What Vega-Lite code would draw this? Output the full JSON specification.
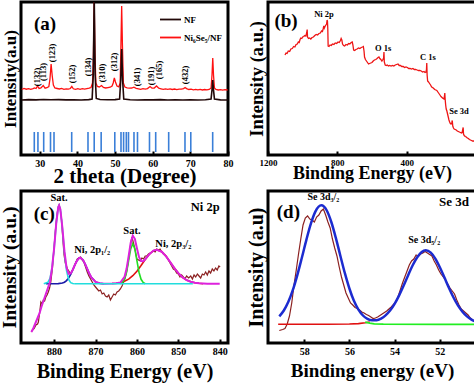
{
"$schema": "https://vega.github.io/schema/vega-lite/v6.json",
"padding": {"left": -3, "top": 0, "right": 0, "bottom": 0},
"background": "white",
"columns": 2,
"spacing": {"row": 1, "column": 9},
"resolve": {"scale": {"x": "independent", "y": "independent", "color": "independent"}, "legend": {"color": "independent"}},
"concat": [
{
"width": 207, "height": 153,
"layer": [
{"data": {"values": [{"x":28.53},{"x":29.5},{"x":31.03},{"x":32.84},{"x":33.77},{"x":38.47},{"x":42.8},{"x":44.45},{"x":46.3},{"x":49.92},{"x":51.57},{"x":52.26},{"x":52.98},{"x":53.56},{"x":55.02},{"x":55.95},{"x":59.14},{"x":60.79},{"x":64.24},{"x":68.57},{"x":70.11},{"x":75.93}]},
 "mark": {"type": "rule", "color": "#3a7fd8", "strokeWidth": 1.6},
 "encoding": {
  "x": {"field": "x", "type": "quantitative", "scale": {"domain": [25, 80], "nice": false, "zero": false}, "axis": {"title": "2 theta (Degree)", "values": [30,40,50,60,70,80], "labelOverlap": false, "labelFontSize": 10, "titleFontSize": 21, "titlePadding": -3}},
  "y": {"datum": 3, "type": "quantitative", "scale": {"domain": [0, 153], "nice": false, "zero": false}, "axis": {"title": "Intensity(a.u)", "titleFontSize": 17}},
  "y2": {"datum": 23}}},
{"data": {"values": [{"x":25.2,"y":65.5},{"x":25.8,"y":66.5},{"x":26.4,"y":65.8},{"x":27,"y":66.4},{"x":27.6,"y":65.6},{"x":28.2,"y":66.3},{"x":28.6,"y":67},{"x":29.0,"y":66.5},{"x":29.4,"y":69},{"x":29.8,"y":66.5},{"x":30.3,"y":67},{"x":30.9,"y":69.5},{"x":31.4,"y":66.8},{"x":31.9,"y":67.3},{"x":32.4,"y":68.5},{"x":32.7,"y":76},{"x":33.0,"y":91},{"x":33.3,"y":79},{"x":33.6,"y":70},{"x":34.0,"y":67},{"x":34.6,"y":66.5},{"x":35.2,"y":66},{"x":35.8,"y":66.6},{"x":36.4,"y":65.7},{"x":37.0,"y":66.2},{"x":37.6,"y":65.8},{"x":38.1,"y":66.5},{"x":38.5,"y":68.5},{"x":38.9,"y":66.2},{"x":39.5,"y":65.6},{"x":40.1,"y":66.3},{"x":40.7,"y":65.7},{"x":41.3,"y":66.4},{"x":41.9,"y":65.8},{"x":42.5,"y":66.3},{"x":43.1,"y":66.8},{"x":43.6,"y":67.5},{"x":44.0,"y":72},{"x":44.25,"y":100},{"x":44.45,"y":153},{"x":44.65,"y":100},{"x":44.9,"y":72},{"x":45.3,"y":68.5},{"x":45.8,"y":68},{"x":46.4,"y":69.5},{"x":46.9,"y":67.5},{"x":47.5,"y":67},{"x":48.1,"y":67.4},{"x":48.7,"y":67.8},{"x":49.2,"y":69},{"x":49.5,"y":72},{"x":49.8,"y":77},{"x":50.1,"y":73},{"x":50.5,"y":69},{"x":51.0,"y":68.2},{"x":51.35,"y":72},{"x":51.55,"y":110},{"x":51.75,"y":149},{"x":51.95,"y":110},{"x":52.2,"y":72},{"x":52.6,"y":68},{"x":53.2,"y":67.2},{"x":53.8,"y":66.8},{"x":54.4,"y":67},{"x":55.0,"y":67.8},{"x":55.6,"y":66.6},{"x":56.2,"y":66.2},{"x":56.8,"y":65.7},{"x":57.4,"y":66.3},{"x":58.0,"y":65.8},{"x":58.6,"y":66.4},{"x":59.3,"y":68.5},{"x":59.8,"y":66.8},{"x":60.4,"y":67},{"x":61.0,"y":69},{"x":61.6,"y":66.8},{"x":62.2,"y":66.2},{"x":62.8,"y":65.6},{"x":63.4,"y":66.2},{"x":64.0,"y":65.7},{"x":64.6,"y":66.1},{"x":65.2,"y":65.5},{"x":65.8,"y":66},{"x":66.4,"y":65.4},{"x":67.0,"y":65.9},{"x":67.6,"y":65.8},{"x":68.2,"y":66.4},{"x":68.6,"y":67.5},{"x":69.0,"y":66.4},{"x":69.6,"y":65.5},{"x":70.2,"y":65.9},{"x":70.8,"y":65.2},{"x":71.4,"y":65.7},{"x":72.0,"y":65.1},{"x":72.6,"y":65.6},{"x":73.2,"y":65.0},{"x":73.8,"y":65.5},{"x":74.4,"y":65.1},{"x":75.0,"y":65.6},{"x":75.5,"y":67},{"x":75.75,"y":80},{"x":75.95,"y":97},{"x":76.15,"y":80},{"x":76.4,"y":67},{"x":76.8,"y":65.5},{"x":77.4,"y":65},{"x":78.0,"y":65.4},{"x":78.6,"y":64.9},{"x":79.2,"y":65.3},{"x":79.9,"y":65}]},
 "mark": {"type": "line", "strokeWidth": 1.3, "clip": true},
 "encoding": {
  "x": {"field": "x", "type": "quantitative"},
  "y": {"field": "y", "type": "quantitative"},
  "color": {"datum": "Ni₆Se₅/NF", "type": "nominal", "scale": {"domain": ["NF", "Ni₆Se₅/NF"], "range": ["#220808", "#ff1111"]},
   "legend": {"title": null, "orient": "top-right", "offset": 6, "padding": 0, "symbolType": "stroke", "symbolSize": 441, "symbolStrokeWidth": 1.8, "labelFont": "Liberation Serif", "labelFontWeight": "bold", "labelFontSize": 9, "labelColor": "black", "rowPadding": 1, "labelOffset": 2}}}},
{"data": {"values": [{"x":25.2,"y":55},{"x":27,"y":55.4},{"x":29,"y":55.1},{"x":31,"y":55.5},{"x":33,"y":55.2},{"x":35,"y":55.4},{"x":37,"y":55.1},{"x":39,"y":55.3},{"x":41,"y":55},{"x":43,"y":55.4},{"x":43.9,"y":56},{"x":44.2,"y":80},{"x":44.45,"y":160},{"x":44.7,"y":80},{"x":45.0,"y":56.5},{"x":46,"y":55.5},{"x":48,"y":55.2},{"x":50,"y":55.4},{"x":51.2,"y":56},{"x":51.5,"y":75},{"x":51.75,"y":106},{"x":52.0,"y":75},{"x":52.3,"y":56},{"x":54,"y":55.3},{"x":56,"y":55},{"x":58,"y":55.3},{"x":60,"y":55.1},{"x":62,"y":55.4},{"x":64,"y":55},{"x":66,"y":55.2},{"x":68,"y":55},{"x":70,"y":55.3},{"x":72,"y":55},{"x":74,"y":55.2},{"x":75.5,"y":56},{"x":75.75,"y":65},{"x":75.95,"y":75},{"x":76.15,"y":65},{"x":76.4,"y":56},{"x":78,"y":55.1},{"x":79.9,"y":55}]},
 "mark": {"type": "line", "strokeWidth": 1.6, "clip": true},
 "encoding": {
  "x": {"field": "x", "type": "quantitative"},
  "y": {"field": "y", "type": "quantitative"},
  "color": {"datum": "NF", "type": "nominal"}}},
{"data": {"values": [{"x":29.17,"y":78,"t":"(132)"},{"x":30.92,"y":83,"t":"(113)"},{"x":33.16,"y":102,"t":"(123)"},{"x":38.47,"y":81,"t":"(152)"},{"x":42.88,"y":88,"t":"(134)"},{"x":46.44,"y":82,"t":"(310)"},{"x":49.71,"y":93,"t":"(312)"},{"x":55.74,"y":78,"t":"(341)"},{"x":59.46,"y":79,"t":"(191)"},{"x":61.74,"y":85,"t":"(165)"},{"x":68.57,"y":80,"t":"(432)"}]},
 "mark": {"type": "text", "angle": 270, "fontSize": 8.5, "baseline": "middle", "align": "center"},
 "encoding": {"x": {"field": "x", "type": "quantitative"}, "y": {"field": "y", "type": "quantitative"}, "text": {"field": "t"}}},
{"data": {"values": [{"x":31.4,"y":131,"t":"(a)"}]},
 "mark": {"type": "text", "fontSize": 19, "baseline": "middle", "align": "center"},
 "encoding": {"x": {"field": "x", "type": "quantitative"}, "y": {"field": "y", "type": "quantitative"}, "text": {"field": "t"}}}
]
},
{
"width": 208, "height": 153,
"layer": [
{"data": {"values": [{"x":1102,"y":100},{"x":1096,"y":102},{"x":1090,"y":101.5},{"x":1083,"y":104},{"x":1075,"y":103.5},{"x":1068,"y":106},{"x":1060,"y":106.5},{"x":1052,"y":108.5},{"x":1045,"y":108},{"x":1038,"y":110.5},{"x":1031,"y":111},{"x":1025,"y":113},{"x":1020,"y":112.5},{"x":1015,"y":115.5},{"x":1011,"y":117},{"x":1005,"y":116.5},{"x":1000,"y":118},{"x":994,"y":118.5},{"x":988,"y":119.5},{"x":982,"y":119},{"x":977,"y":122},{"x":974,"y":125.5},{"x":972,"y":118},{"x":966,"y":116.5},{"x":960,"y":117},{"x":953,"y":116},{"x":946,"y":117.5},{"x":938,"y":118},{"x":930,"y":119.5},{"x":922,"y":120.5},{"x":914,"y":120},{"x":906,"y":121.5},{"x":898,"y":122},{"x":891,"y":124},{"x":886,"y":123.5},{"x":882,"y":126},{"x":878,"y":129},{"x":875,"y":127},{"x":871,"y":128.5},{"x":866,"y":130},{"x":862,"y":131},{"x":859,"y":135},{"x":857,"y":134},{"x":855,"y":126},{"x":853,"y":109},{"x":848,"y":108.5},{"x":842,"y":110},{"x":835,"y":109.5},{"x":828,"y":111},{"x":820,"y":110.5},{"x":812,"y":112},{"x":804,"y":111.5},{"x":796,"y":113},{"x":789,"y":112.5},{"x":782,"y":114.5},{"x":778,"y":116.5},{"x":774,"y":115},{"x":770,"y":111},{"x":764,"y":109.5},{"x":758,"y":109},{"x":750,"y":110.5},{"x":742,"y":110},{"x":735,"y":111.5},{"x":728,"y":111},{"x":720,"y":112.5},{"x":714,"y":113},{"x":710,"y":110},{"x":706,"y":105},{"x":700,"y":104.5},{"x":693,"y":105.5},{"x":686,"y":106},{"x":678,"y":107},{"x":670,"y":106.5},{"x":662,"y":107.5},{"x":655,"y":108},{"x":650,"y":108.5},{"x":646,"y":104},{"x":643,"y":98},{"x":638,"y":95.5},{"x":632,"y":94},{"x":626,"y":92.5},{"x":620,"y":91},{"x":614,"y":91.5},{"x":607,"y":92},{"x":600,"y":92.5},{"x":593,"y":94},{"x":586,"y":95},{"x":578,"y":95.5},{"x":571,"y":96.5},{"x":565,"y":97.5},{"x":560,"y":98},{"x":555,"y":96.5},{"x":549,"y":95.5},{"x":543,"y":94},{"x":537,"y":95.5},{"x":533,"y":97},{"x":531,"y":103},{"x":529,"y":93},{"x":524,"y":90},{"x":518,"y":89.5},{"x":512,"y":90},{"x":505,"y":89},{"x":498,"y":89.5},{"x":490,"y":89},{"x":482,"y":89.5},{"x":474,"y":89},{"x":466,"y":90},{"x":458,"y":90.5},{"x":450,"y":91},{"x":443,"y":89.5},{"x":436,"y":89.5},{"x":428,"y":88.5},{"x":420,"y":88.5},{"x":412,"y":87.5},{"x":404,"y":88},{"x":396,"y":87.5},{"x":388,"y":86.5},{"x":380,"y":86.5},{"x":372,"y":86},{"x":364,"y":86.5},{"x":356,"y":85.5},{"x":348,"y":85.5},{"x":340,"y":85},{"x":332,"y":84.5},{"x":324,"y":84.5},{"x":316,"y":84},{"x":308,"y":83},{"x":300,"y":83.5},{"x":294,"y":82.5},{"x":289,"y":83},{"x":286,"y":85},{"x":284,"y":92},{"x":282,"y":80},{"x":279,"y":74},{"x":274,"y":73},{"x":268,"y":71.5},{"x":262,"y":70},{"x":256,"y":68},{"x":250,"y":67.5},{"x":244,"y":66.5},{"x":238,"y":65.5},{"x":232,"y":65},{"x":226,"y":64.5},{"x":220,"y":63},{"x":214,"y":61.5},{"x":208,"y":60},{"x":202,"y":58.5},{"x":196,"y":57.5},{"x":190,"y":56.5},{"x":185,"y":56},{"x":182,"y":59},{"x":180,"y":62},{"x":178,"y":56},{"x":175,"y":50},{"x":172,"y":46},{"x":168,"y":44},{"x":164,"y":41},{"x":160,"y":38},{"x":156,"y":35},{"x":152,"y":33},{"x":148,"y":31.5},{"x":144,"y":31},{"x":140,"y":32},{"x":137,"y":34.5},{"x":134,"y":29},{"x":130,"y":27},{"x":126,"y":26},{"x":120,"y":25.5},{"x":114,"y":25},{"x":108,"y":24},{"x":102,"y":23.5},{"x":96,"y":23},{"x":90,"y":22.5},{"x":84,"y":22},{"x":80,"y":22.5},{"x":77,"y":25},{"x":74,"y":27.5},{"x":72,"y":21},{"x":68,"y":19.5},{"x":62,"y":18.5},{"x":56,"y":18},{"x":50,"y":17},{"x":44,"y":16.5},{"x":38,"y":15.5},{"x":32,"y":15},{"x":26,"y":14.5},{"x":20,"y":14},{"x":14,"y":14},{"x":8,"y":13.5},{"x":2,"y":13.5}]},
 "mark": {"type": "line", "color": "#ee1515", "strokeWidth": 1.3, "clip": true},
 "encoding": {
  "x": {"field": "x", "type": "quantitative", "scale": {"domain": [0, 1200], "reverse": true, "nice": false, "zero": false}, "axis": {"title": "Binding Energy (eV)", "values": [0,200,400,600,800,1000,1200], "format": "d", "labelOverlap": false, "labelSeparation": -20, "labelBound": false, "labelFontSize": 9, "titleFontSize": 18, "titlePadding": -3}},
  "y": {"field": "y", "type": "quantitative", "scale": {"domain": [0, 153], "nice": false, "zero": false}, "axis": {"title": "Intensity (a.u.)", "titleFontSize": 18.5}}}},
{"data": {"values": [{"x":877,"y":141,"t":"Ni 2p"},{"x":536,"y":107,"t":"O 1s"},{"x":277,"y":98,"t":"C 1s"},{"x":98,"y":44,"t":"Se 3d"}]},
 "mark": {"type": "text", "fontSize": 8.5, "baseline": "middle", "align": "center"},
 "encoding": {"x": {"field": "x", "type": "quantitative"}, "y": {"field": "y", "type": "quantitative"}, "text": {"field": "t"}}},
{"data": {"values": [{"x":1096,"y":134,"t":"(b)"}]},
 "mark": {"type": "text", "fontSize": 19, "baseline": "middle", "align": "center"},
 "encoding": {"x": {"field": "x", "type": "quantitative"}, "y": {"field": "y", "type": "quantitative"}, "text": {"field": "t"}}}
]
},
{
"width": 207, "height": 152,
"layer": [
{"data": {"values": [{"x":885.5,"y":11},{"x":885.2,"y":13},{"x":884.8,"y":14.5},{"x":884.4,"y":18},{"x":884.0,"y":19},{"x":883.8,"y":21},{"x":883.5,"y":30},{"x":883.2,"y":41},{"x":882.9,"y":39},{"x":882.6,"y":43},{"x":882.3,"y":42},{"x":882.0,"y":46},{"x":881.7,"y":48},{"x":881.4,"y":51},{"x":881.1,"y":55},{"x":880.8,"y":61},{"x":880.4,"y":75},{"x":880.0,"y":96},{"x":879.7,"y":112},{"x":879.4,"y":126},{"x":879.1,"y":134},{"x":878.8,"y":138},{"x":878.5,"y":133},{"x":878.2,"y":123},{"x":877.9,"y":104},{"x":877.6,"y":88},{"x":877.3,"y":80},{"x":877.0,"y":77},{"x":876.8,"y":74},{"x":876.6,"y":73},{"x":876.3,"y":71},{"x":876.0,"y":69},{"x":875.7,"y":72},{"x":875.4,"y":74},{"x":875.2,"y":76},{"x":874.8,"y":80},{"x":874.4,"y":84},{"x":874.0,"y":85},{"x":873.6,"y":86},{"x":873.2,"y":83},{"x":872.8,"y":81},{"x":872.4,"y":76},{"x":872.0,"y":71},{"x":871.6,"y":67},{"x":871.2,"y":64},{"x":870.8,"y":61},{"x":870.4,"y":58},{"x":870.0,"y":56},{"x":869.6,"y":54},{"x":869.2,"y":52},{"x":868.8,"y":53},{"x":868.4,"y":49},{"x":868.0,"y":50},{"x":867.6,"y":47},{"x":867.2,"y":46},{"x":866.8,"y":48},{"x":866.4,"y":43},{"x":866.0,"y":46},{"x":865.6,"y":49},{"x":865.2,"y":48},{"x":864.8,"y":51},{"x":864.4,"y":52},{"x":864.0,"y":54},{"x":863.6,"y":57},{"x":863.2,"y":61},{"x":862.8,"y":66},{"x":862.4,"y":73},{"x":862.0,"y":84},{"x":861.7,"y":93},{"x":861.4,"y":102},{"x":861.2,"y":106},{"x":860.9,"y":101},{"x":860.6,"y":96},{"x":860.3,"y":90},{"x":860.0,"y":84},{"x":859.6,"y":83},{"x":859.2,"y":82},{"x":858.8,"y":85},{"x":858.4,"y":84},{"x":858.0,"y":87},{"x":857.6,"y":87},{"x":857.2,"y":89},{"x":856.8,"y":90},{"x":856.4,"y":91},{"x":856.0,"y":92},{"x":855.6,"y":91},{"x":855.2,"y":94},{"x":854.8,"y":93},{"x":854.4,"y":94},{"x":854.0,"y":91},{"x":853.6,"y":89},{"x":853.2,"y":88},{"x":852.8,"y":86},{"x":852.4,"y":83},{"x":852.0,"y":80},{"x":851.6,"y":77},{"x":851.2,"y":74},{"x":850.8,"y":73},{"x":850.4,"y":70},{"x":850.0,"y":69},{"x":849.6,"y":66},{"x":849.2,"y":68},{"x":848.8,"y":66},{"x":848.4,"y":64},{"x":848.0,"y":67},{"x":847.5,"y":65},{"x":847.0,"y":67},{"x":846.6,"y":64},{"x":846.2,"y":68},{"x":845.8,"y":66},{"x":845.4,"y":69},{"x":845.0,"y":67},{"x":844.6,"y":65},{"x":844.2,"y":69},{"x":843.8,"y":68},{"x":843.4,"y":71},{"x":843.0,"y":68},{"x":842.6,"y":72},{"x":842.2,"y":70},{"x":841.8,"y":74},{"x":841.4,"y":72},{"x":841.0,"y":75},{"x":840.6,"y":73},{"x":840.2,"y":77},{"x":839.9,"y":76}]},
 "mark": {"type": "line", "color": "#8b2020", "strokeWidth": 1.2, "clip": true},
 "encoding": {
  "x": {"field": "x", "type": "quantitative", "scale": {"domain": [838, 888], "reverse": true, "nice": false, "zero": false}, "axis": {"title": "Binding Energy (eV)", "values": [840,850,860,870,880], "labelOverlap": false, "labelFontSize": 10, "titleFontSize": 20, "titlePadding": 5}},
  "y": {"field": "y", "type": "quantitative", "scale": {"domain": [0, 152], "nice": false, "zero": false}, "axis": {"title": "Intensity (a.u.)", "titleFontSize": 19.5}}}},
{"data": {"values": [{"x":866,"y":59.5},{"x":865,"y":59.8},{"x":864,"y":60.5},{"x":863,"y":61.7},{"x":862,"y":63.9},{"x":861,"y":67.3},{"x":860,"y":71.8},{"x":859,"y":77.5},{"x":858,"y":83.5},{"x":857,"y":88.8},{"x":856,"y":92.4},{"x":855.2,"y":93.3},{"x":854,"y":91.3},{"x":853,"y":86.9},{"x":852,"y":81.1},{"x":851,"y":75.2},{"x":850,"y":69.9},{"x":849,"y":65.7},{"x":848,"y":62.9},{"x":847,"y":61.2},{"x":846,"y":60.2},{"x":845,"y":59.7},{"x":844,"y":59.3}]},
 "mark": {"type": "line", "color": "#e01010", "strokeWidth": 1.6},
 "encoding": {"x": {"field": "x", "type": "quantitative"}, "y": {"field": "y", "type": "quantitative"}}},
{"data": {"values": [{"x":882,"y":59.3},{"x":880,"y":59.3},{"x":879,"y":59.4},{"x":878,"y":60},{"x":877.5,"y":60.8},{"x":877,"y":62.4},{"x":876.5,"y":64.9},{"x":876,"y":68.6},{"x":875.5,"y":73.1},{"x":875,"y":78},{"x":874.5,"y":82.2},{"x":874,"y":84.8},{"x":873.7,"y":85.3},{"x":873,"y":82.9},{"x":872.5,"y":78.9},{"x":872,"y":74.1},{"x":871.5,"y":69.4},{"x":871,"y":65.6},{"x":870,"y":61.1},{"x":869,"y":59.7},{"x":868,"y":59.3}]},
 "mark": {"type": "line", "color": "#1a1aa8", "strokeWidth": 1.6},
 "encoding": {"x": {"field": "x", "type": "quantitative"}, "y": {"field": "y", "type": "quantitative"}}},
{"data": {"values": [{"x":864,"y":59.3},{"x":863.5,"y":60.6},{"x":863,"y":63.7},{"x":862.5,"y":70.8},{"x":862,"y":82.3},{"x":861.5,"y":94.1},{"x":861,"y":99.3},{"x":860.5,"y":94.1},{"x":860,"y":82.3},{"x":859.5,"y":70.8},{"x":859,"y":63.7},{"x":858.5,"y":60.6},{"x":858,"y":59.3}]},
 "mark": {"type": "line", "color": "#22dd22", "strokeWidth": 1.6},
 "encoding": {"x": {"field": "x", "type": "quantitative"}, "y": {"field": "y", "type": "quantitative"}}},
{"data": {"values": [{"x":882.5,"y":59.3},{"x":881.5,"y":60.7},{"x":881,"y":64.7},{"x":880.5,"y":75.1},{"x":880,"y":94.6},{"x":879.5,"y":119.1},{"x":879,"y":136},{"x":878.8,"y":137.7},{"x":878.5,"y":133.9},{"x":878,"y":114.3},{"x":877.5,"y":90.1},{"x":877,"y":72.3},{"x":876.5,"y":63.5},{"x":876,"y":60.3},{"x":875.5,"y":59.5},{"x":875,"y":59.3}]},
 "mark": {"type": "line", "color": "#22dddd", "strokeWidth": 1.6},
 "encoding": {"x": {"field": "x", "type": "quantitative"}, "y": {"field": "y", "type": "quantitative"}}},
{"data": {"values": [{"x":885.5,"y":11},{"x":885,"y":15},{"x":884.5,"y":20},{"x":884,"y":25},{"x":883.5,"y":30},{"x":883,"y":37},{"x":882.5,"y":43},{"x":882,"y":49},{"x":881.5,"y":55},{"x":881,"y":61},{"x":880.5,"y":75.1},{"x":880,"y":94.6},{"x":879.5,"y":119.1},{"x":879,"y":136},{"x":878.8,"y":137.7},{"x":878.5,"y":133.9},{"x":878,"y":115},{"x":877.5,"y":91.6},{"x":877,"y":75.4},{"x":876.5,"y":69.1},{"x":876,"y":69.6},{"x":875.5,"y":73.3},{"x":875,"y":78},{"x":874.5,"y":82.2},{"x":874,"y":84.8},{"x":873.7,"y":85.3},{"x":873,"y":82.9},{"x":872.5,"y":78.9},{"x":872,"y":74.1},{"x":871.5,"y":69.4},{"x":871,"y":65.6},{"x":870,"y":61.1},{"x":869,"y":59.7},{"x":868,"y":59.3},{"x":866,"y":59.5},{"x":865,"y":59.8},{"x":864,"y":60.5},{"x":863,"y":66.1},{"x":862.5,"y":74.2},{"x":862,"y":86.9},{"x":861.5,"y":100.2},{"x":861,"y":107.3},{"x":860.5,"y":104.2},{"x":860,"y":94.8},{"x":859.5,"y":86.1},{"x":859,"y":81.9},{"x":858.5,"y":81.8},{"x":858,"y":83.8},{"x":857,"y":88.8},{"x":856,"y":92.4},{"x":855.2,"y":93.3},{"x":854,"y":91.3},{"x":853,"y":86.9},{"x":852,"y":81.1},{"x":851,"y":75.2},{"x":850,"y":69.9},{"x":849,"y":65.7},{"x":848,"y":62.9},{"x":847,"y":61.2},{"x":846,"y":60.2},{"x":845,"y":59.7},{"x":843,"y":59.3},{"x":840,"y":59.3}]},
 "mark": {"type": "line", "color": "#dd22dd", "strokeWidth": 2},
 "encoding": {"x": {"field": "x", "type": "quantitative"}, "y": {"field": "y", "type": "quantitative"}}},
{"data": {"values": [{"x":875,"y":59.3},{"x":846.5,"y":59.3}]},
 "mark": {"type": "line", "color": "#22dddd", "strokeWidth": 1.6},
 "encoding": {"x": {"field": "x", "type": "quantitative"}, "y": {"field": "y", "type": "quantitative"}}},
{"data": {"values": [{"x":878.8,"y":145,"t":"Sat."},{"x":870.8,"y":93,"t":"Ni, 2p₁/₂"},{"x":861.2,"y":112,"t":"Sat."},{"x":851.2,"y":99,"t":"Ni, 2p₃/₂"}]},
 "mark": {"type": "text", "fontSize": 10.5, "baseline": "middle", "align": "center"},
 "encoding": {"x": {"field": "x", "type": "quantitative"}, "y": {"field": "y", "type": "quantitative"}, "text": {"field": "t"}}},
{"data": {"values": [{"x":843.5,"y":136,"t":"Ni 2p"}]},
 "mark": {"type": "text", "fontSize": 12.5, "baseline": "middle", "align": "center"},
 "encoding": {"x": {"field": "x", "type": "quantitative"}, "y": {"field": "y", "type": "quantitative"}, "text": {"field": "t"}}},
{"data": {"values": [{"x":882.4,"y":129,"t":"(c)"}]},
 "mark": {"type": "text", "fontSize": 19, "baseline": "middle", "align": "center"},
 "encoding": {"x": {"field": "x", "type": "quantitative"}, "y": {"field": "y", "type": "quantitative"}, "text": {"field": "t"}}}
]
},
{
"width": 208, "height": 152,
"layer": [
{"data": {"values": [{"x":59.1,"y":12.5},{"x":58.95,"y":13.5},{"x":58.85,"y":14.5},{"x":58.75,"y":19},{"x":58.65,"y":27},{"x":58.55,"y":40},{"x":58.45,"y":58},{"x":58.35,"y":73},{"x":58.25,"y":89},{"x":58.15,"y":104},{"x":58.05,"y":118},{"x":57.95,"y":125},{"x":57.85,"y":127},{"x":57.75,"y":124},{"x":57.65,"y":123},{"x":57.55,"y":121},{"x":57.45,"y":126},{"x":57.35,"y":128},{"x":57.25,"y":132},{"x":57.15,"y":134},{"x":57.05,"y":128},{"x":56.95,"y":121},{"x":56.85,"y":115},{"x":56.75,"y":104},{"x":56.65,"y":95},{"x":56.55,"y":87},{"x":56.45,"y":76},{"x":56.35,"y":66},{"x":56.25,"y":58},{"x":56.15,"y":50},{"x":56.05,"y":45},{"x":55.95,"y":40},{"x":55.85,"y":38},{"x":55.75,"y":35.5},{"x":55.65,"y":34.5},{"x":55.55,"y":33},{"x":55.45,"y":31},{"x":55.35,"y":30},{"x":55.25,"y":28.5},{"x":55.15,"y":27.5},{"x":55.05,"y":26},{"x":54.95,"y":24.5},{"x":54.85,"y":25},{"x":54.75,"y":26},{"x":54.65,"y":27.5},{"x":54.55,"y":29},{"x":54.45,"y":30.5},{"x":54.35,"y":32},{"x":54.25,"y":34},{"x":54.15,"y":36},{"x":54.05,"y":38.5},{"x":53.95,"y":41},{"x":53.85,"y":46},{"x":53.75,"y":53},{"x":53.65,"y":60},{"x":53.55,"y":66},{"x":53.45,"y":72},{"x":53.35,"y":78},{"x":53.25,"y":82},{"x":53.15,"y":84},{"x":53.05,"y":88},{"x":52.95,"y":87},{"x":52.85,"y":89},{"x":52.75,"y":90},{"x":52.65,"y":91.5},{"x":52.55,"y":90},{"x":52.45,"y":88.5},{"x":52.35,"y":87},{"x":52.25,"y":82},{"x":52.15,"y":78},{"x":52.05,"y":73},{"x":51.95,"y":69},{"x":51.85,"y":66},{"x":51.75,"y":63},{"x":51.65,"y":59},{"x":51.55,"y":55},{"x":51.45,"y":52},{"x":51.35,"y":49},{"x":51.25,"y":43},{"x":51.15,"y":38},{"x":51.05,"y":34},{"x":50.95,"y":32},{"x":50.85,"y":30},{"x":50.75,"y":28},{"x":50.65,"y":25},{"x":50.55,"y":23},{"x":50.45,"y":21}]},
 "mark": {"type": "line", "color": "#8b2020", "strokeWidth": 1.2, "clip": true},
 "encoding": {
  "x": {"field": "x", "type": "quantitative", "scale": {"domain": [50.4, 59.6], "reverse": true, "nice": false, "zero": false}, "axis": {"title": "Binding energy (eV)", "values": [52,54,56,58], "labelOverlap": false, "labelFontSize": 10, "titleFontSize": 19, "titlePadding": 5}},
  "y": {"field": "y", "type": "quantitative", "scale": {"domain": [0, 152], "nice": false, "zero": false}, "axis": {"title": "Intensity (a.u)", "titleFontSize": 20}}}},
{"data": {"values": [{"x":59.15,"y":18.7},{"x":57,"y":18.8},{"x":56,"y":19.0},{"x":55.6,"y":19.4},{"x":55.3,"y":20.2},{"x":55.1,"y":21}]},
 "mark": {"type": "line", "color": "#e01010", "strokeWidth": 1.6},
 "encoding": {"x": {"field": "x", "type": "quantitative"}, "y": {"field": "y", "type": "quantitative"}}},
{"data": {"values": [{"x":55.3,"y":20.8},{"x":55.1,"y":19.8},{"x":54.9,"y":19.1},{"x":54.5,"y":18.8},{"x":52,"y":18.6},{"x":50.42,"y":18.6}]},
 "mark": {"type": "line", "color": "#22ee22", "strokeWidth": 1.8},
 "encoding": {"x": {"field": "x", "type": "quantitative"}, "y": {"field": "y", "type": "quantitative"}}},
{"data": {"values": [{"x":59.1,"y":26.7},{"x":58.9,"y":32.5},{"x":58.7,"y":41.2},{"x":58.5,"y":53.1},{"x":58.3,"y":68.2},{"x":58.1,"y":85.5},{"x":57.9,"y":103.4},{"x":57.7,"y":119.6},{"x":57.5,"y":131.6},{"x":57.24,"y":137.7},{"x":57.0,"y":132.5},{"x":56.8,"y":121.0},{"x":56.6,"y":105.1},{"x":56.4,"y":87.3},{"x":56.2,"y":69.8},{"x":56.0,"y":54.5},{"x":55.8,"y":42.2},{"x":55.6,"y":33.4},{"x":55.4,"y":27.5},{"x":55.2,"y":24.1},{"x":55.0,"y":22.7},{"x":54.8,"y":22.8},{"x":54.6,"y":24.4},{"x":54.4,"y":27.6},{"x":54.2,"y":32.4},{"x":54.0,"y":39.1},{"x":53.8,"y":47.6},{"x":53.6,"y":57.4},{"x":53.4,"y":67.8},{"x":53.2,"y":77.7},{"x":53.0,"y":85.8},{"x":52.8,"y":91.1},{"x":52.62,"y":92.7},{"x":52.4,"y":90.3},{"x":52.2,"y":84.4},{"x":52.0,"y":75.8},{"x":51.8,"y":65.7},{"x":51.6,"y":55.3},{"x":51.4,"y":45.8},{"x":51.2,"y":37.6},{"x":51.0,"y":31.3},{"x":50.8,"y":26.6},{"x":50.6,"y":23.4},{"x":50.45,"y":21.8}]},
 "mark": {"type": "line", "color": "#1c2bd0", "strokeWidth": 2.5, "interpolate": "monotone"},
 "encoding": {"x": {"field": "x", "type": "quantitative"}, "y": {"field": "y", "type": "quantitative"}}},
{"data": {"values": [{"x":57.15,"y":146,"t":"Se 3d₃/₂"},{"x":52.69,"y":103,"t":"Se 3d₅/₂"}]},
 "mark": {"type": "text", "fontSize": 10, "baseline": "middle", "align": "center"},
 "encoding": {"x": {"field": "x", "type": "quantitative"}, "y": {"field": "y", "type": "quantitative"}, "text": {"field": "t"}}},
{"data": {"values": [{"x":51.37,"y":141,"t":"Se 3d"}]},
 "mark": {"type": "text", "fontSize": 13, "baseline": "middle", "align": "center"},
 "encoding": {"x": {"field": "x", "type": "quantitative"}, "y": {"field": "y", "type": "quantitative"}, "text": {"field": "t"}}},
{"data": {"values": [{"x":58.7,"y":131,"t":"(d)"}]},
 "mark": {"type": "text", "fontSize": 19, "baseline": "middle", "align": "center"},
 "encoding": {"x": {"field": "x", "type": "quantitative"}, "y": {"field": "y", "type": "quantitative"}, "text": {"field": "t"}}}
]
}
],
"config": {
 "font": "Liberation Serif",
 "view": {"stroke": "black", "strokeWidth": 3},
 "axis": {"domain": false, "grid": false, "labelFont": "Liberation Serif", "titleFont": "Liberation Serif", "labelFontWeight": "bold", "titleFontWeight": "bold", "labelColor": "black", "titleColor": "black", "tickColor": "black", "labelOverlap": false},
 "axisY": {"labels": false, "ticks": false, "titlePadding": 2, "minExtent": 0},
 "axisX": {"tickSize": -4, "tickWidth": 2, "labelPadding": 7, "titlePadding": 0, "labelFlush": false, "minExtent": 0},
 "text": {"font": "Liberation Serif", "fontWeight": "bold", "color": "black"}
}
}
